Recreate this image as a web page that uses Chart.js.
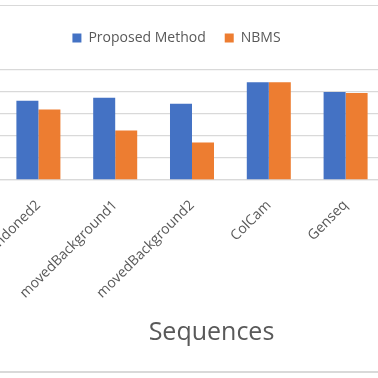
<!DOCTYPE html>
<html>
<head>
<meta charset="utf-8">
<script src="https://cdn.jsdelivr.net/npm/chart.js@4.4.1/dist/chart.umd.min.js"></script>
<style>
  html, body { margin: 0; padding: 0; background: #fff; overflow: hidden; }
  #wrap { position: relative; width: 378px; height: 378px; overflow: hidden; }
  /* the picture is a crop of a wider chart: shift the canvas so the y-axis falls off the left edge */
  #c { position: absolute; top: 0; left: -51px; }
  #frame { position: absolute; left: 0; right: 0; top: 5px; height: 365px;
           border-top: 1px solid #d9d9d9; border-bottom: 2px solid #d9d9d9; pointer-events: none; }
</style>
</head>
<body>
<div id="wrap">
  <canvas id="c" width="440" height="378"></canvas>
  <div id="frame"></div>
</div>
<script>
const sequences = ['Abandoned2', 'movedBackground1', 'movedBackground2', 'ColCam', 'Genseq'];
const proposed  = [0.72, 0.747, 0.694, 0.888, 0.80];
const nbms      = [0.641, 0.45, 0.341, 0.888, 0.791];
const yTicks    = [0, 0.2, 0.4, 0.6, 0.8, 1];

const grey = '#595959';
const gridGrey = '#d9d9d9';
const font = 'Open Sans';

// extra room between legend and plot (Excel leaves a gap there)
const legendGap = {
  id: 'legendGap',
  beforeInit(chart) {
    const fit = chart.legend.fit;
    chart.legend.fit = function () { fit.call(this); this.height += 15; };
  },
};

new Chart(document.getElementById('c'), {
  type: 'bar',
  data: {
    labels: sequences,
    datasets: [
      { label: 'Proposed Method', data: proposed, backgroundColor: '#4472C4' },
      { label: 'NBMS', data: nbms, backgroundColor: '#ED7D31' },
    ],
  },
  options: {
    responsive: false,
    animation: false,
    devicePixelRatio: 1,
    layout: { padding: { left: 20, right: 5, top: 12, bottom: 30 } },
    datasets: { bar: { categoryPercentage: 0.573, barPercentage: 1, borderWidth: 0 } },
    plugins: {
      tooltip: { enabled: false },
      legend: {
        position: 'top',
        labels: { boxWidth: 9, boxHeight: 9, padding: 19, color: grey, font: { family: font, size: 14 } },
      },
    },
    scales: {
      x: {
        grid: { display: false, drawTicks: false },
        border: { display: true, color: gridGrey, width: 1.3 },
        ticks: { autoSkip: false, minRotation: 45, maxRotation: 45, padding: 17, color: grey,
                 font: { family: font, size: 14 } },
        title: { display: true, text: '      Sequences', color: grey, padding: { top: 0, bottom: 0 },
                 font: { family: font, size: 25 } },
      },
      y: {
        min: yTicks[0],
        max: yTicks[yTicks.length - 1],
        afterBuildTicks: (s) => { s.ticks = yTicks.map((v) => ({ value: v })); },
        afterFit: (s) => { s.width = 31; },
        grid: { color: gridGrey, lineWidth: 1.3, drawTicks: false },
        border: { display: false },
        ticks: { color: grey, font: { family: font, size: 14 }, callback: (v) => v.toFixed(1) },
      },
    },
  },
  plugins: [legendGap],
});
</script>
</body>
</html>
